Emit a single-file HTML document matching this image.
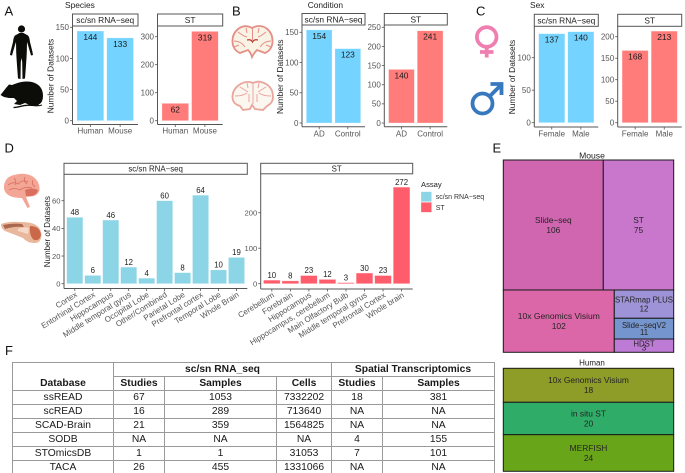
<!DOCTYPE html>
<html lang="en">
<head>
<meta charset="utf-8">
<title>Dataset summary figure</title>
<style>
html,body{margin:0;padding:0;background:#fff;}
#page{position:relative;width:685px;height:473px;overflow:hidden;background:#fff;font-family:"Liberation Sans",sans-serif;}
#fig{position:absolute;left:0;top:0;}
text{font-family:"Liberation Sans",sans-serif;}
#db-table{position:absolute;left:12px;top:362px;width:482px;table-layout:fixed;border-collapse:collapse;font-size:10.3px;color:#1a1a1a;}
#db-table td,#db-table th{border:1px solid #9a9a9a;padding:0;height:13px;line-height:13px;text-align:center;overflow:hidden;white-space:nowrap;}
#db-table th{font-weight:bold;}
#db-table th.db{vertical-align:bottom;}
</style>
</head>
<body>
<div id="page">
<svg id="fig" width="685" height="473" viewBox="0 0 685 473" xmlns="http://www.w3.org/2000/svg">
  <g font-size="13" fill="#111">
    <text x="4.5" y="15.5">A</text>
    <text x="232" y="15.5">B</text>
    <text x="476" y="15.5">C</text>
    <text x="4.5" y="152.5">D</text>
    <text x="492.5" y="152.5">E</text>
    <text x="5" y="355">F</text>
  </g>
  <g font-size="8.4" fill="#222">
    <text x="65" y="8">Species</text>
    <text x="307.7" y="8">Condition</text>
    <text x="530" y="8">Sex</text>
  </g>

  <g fill="#0c0c08">
    <circle cx="21.5" cy="29" r="3.6"/>
    <path d="M19.5 33 L23.5 33 L28 35.5 Q29.5 37 30 42 L32.5 52 L33 55 L31 55.5 L28 45 L27 42 L26.8 52 L26.5 58 L25.8 68 L25 78.5 L22.5 79 L22.2 62 L21.5 58 L20.8 62 L20.5 79 L18 78.5 L17.2 68 L16.5 58 L16.2 52 L16 42 L15 45 L12 55.5 L10 55 L10.5 52 L13 42 Q13.5 37 15 35.5 Z"/>
  </g>
  <g>
    <path fill="#0c0c08" d="M0.5 95 L6 88 L9 84.5 L12 85 L16 83.5 Q24 80.500 32 82 Q43 85 43 96 Q43 103 38 105 L30 105 L25 103 L20 105 L14 104 L17 101 L14 98 L9 98 L4 97 Z"/>
    <path fill="none" stroke="#0c0c08" stroke-width="1.3" d="M37 103 Q40 106 34 105.5 Q26 104.5 20 106.5 Q16 107.5 13.5 107.5"/>
    <path fill="none" stroke="#0c0c08" stroke-width="1" d="M30 104 Q36 107 42 105"/>
  </g>

  <g>
    <path fill="#f9f3e6" stroke="#e58f86" stroke-width="1.8" d="M252 28 Q245 24 238 29 Q232 34 232.5 42 Q233 50 240 53 L248 50 Q251 53 252 57 Q254 53 257 50 L265 53 Q272 50 272.5 42 Q273 33 266 28 Q259 24 252 28 Z"/>
    <path fill="none" stroke="#e58f86" stroke-width="1" d="M252.5 28 L252.5 40 M234 41 Q241 41 245 47 M271 41 Q264 41 260 47 M238 32 Q243 36 247 37 M266 32 Q261 36 258 37 M246 28 L247 33 M259 28 L258 33 M234 47 L239 45 M271 47 L266 45"/>
    <path fill="none" stroke="#b8362d" stroke-width="1.2" d="M247 40 Q251 39 252.5 42 Q254 39 258 40"/>
  </g>
  <g>
    <path fill="#fbf6ef" stroke="#eaa59c" stroke-width="1.8" d="M253 83 Q246 80 239 85 Q232 90 232.5 98 Q233 104 240 106 L243 110 L250 109 L252 105 L255 109 L263 110 L267 106 Q273 103 273 97 Q273 88 266 84 Q259 80 253 83 Z"/>
    <path fill="none" stroke="#eaa59c" stroke-width="1" d="M253 83 L253 104 M235 96 Q243 96 247 93 M271 96 Q263 96 259 93 M240 87 Q245 90 248 92 M266 87 Q261 90 258 92 M247 83 L248 88 M259 83 L258 88 M249 94 L249 102 M257 94 L257 102"/>
  </g>

  <g fill="none" stroke="#ef7fb0" stroke-width="3.8">
    <circle cx="486.7" cy="37" r="9.8"/>
    <path d="M486.7 47 L486.7 57.5 M480 52 L493.5 52"/>
  </g>
  <g fill="none" stroke="#3878be" stroke-width="3.8">
    <circle cx="482.5" cy="103.5" r="10"/>
    <path d="M490 96 L500 86 M490.5 84 L501.5 84 L501.5 95"/>
  </g>

  <g>
    <path fill="#f3a596" d="M4 186 Q5 177 14 175 Q24 172 32 176 Q40 181 39.5 190 Q38 196 31 196.5 L26 197 L30 207 L27.5 208 L22 198 Q10 198 6 193 Q3.5 190 4 186 Z"/>
    <path fill="none" stroke="#d9705f" stroke-width="0.8" d="M8 185 Q14 181 18 184 Q22 179 28 182 M9 190 Q15 187 20 190 Q25 186 32 188 M14 178 Q17 181 15 185 M25 177 Q23 181 27 184 M33 180 Q31 184 35 187"/>
    <path fill="#d9705f" d="M25 190 Q32 187 38 190 Q37 195 31 196 L26 196 Z"/>
  </g>
  <g>
    <path fill="#e9b89c" d="M1 224 Q9 221 20 222 Q30 222 34 224 Q41 227 41.5 235 Q41 243 35 243 Q27 243 23 238 Q13 234 5 231 Q0.5 228 1 224 Z"/>
    <path fill="#c9694a" d="M30 226 Q40 226 41 235 Q40 241 34 240 Q29 236 30 226 Z"/>
    <path fill="#a9674f" d="M3 225 Q12 223 22 224 L24 227 Q14 226 5 229 Z"/>
    <path fill="#f6d9c7" d="M18 229 Q24 226 29 228 L28 234 Q22 232 18 231 Z"/>
  </g>

  <g id="charts"></g>
  <g id="treemaps"></g>
</svg>

<table id="db-table">
  <colgroup><col style="width:101px"><col style="width:51px"><col style="width:112px"><col style="width:55px"><col style="width:51px"><col style="width:112px"></colgroup>
  <tr><th class="db" rowspan="2">Database</th><th colspan="3">sc/sn RNA_seq</th><th colspan="2">Spatial Transcriptomics</th></tr>
  <tr><th>Studies</th><th>Samples</th><th>Cells</th><th>Studies</th><th>Samples</th></tr>
  <tr><td>ssREAD</td><td>67</td><td>1053</td><td>7332202</td><td>18</td><td>381</td></tr>
  <tr><td>scREAD</td><td>16</td><td>289</td><td>713640</td><td>NA</td><td>NA</td></tr>
  <tr><td>SCAD-Brain</td><td>21</td><td>359</td><td>1564825</td><td>NA</td><td>NA</td></tr>
  <tr><td>SODB</td><td>NA</td><td>NA</td><td>NA</td><td>4</td><td>155</td></tr>
  <tr><td>STOmicsDB</td><td>1</td><td>1</td><td>31053</td><td>7</td><td>101</td></tr>
  <tr><td>TACA</td><td>26</td><td>455</td><td>1331066</td><td>NA</td><td>NA</td></tr>
</table>
</div>

<script>
// ---------- chart data ----------
const speciesCategories = ['Human', 'Mouse'];
const speciesRnaValues = [144, 133];
const speciesStValues = [62, 319];
const speciesRnaTicks = [0, 50, 100, 150];
const speciesStTicks = [0, 100, 200, 300];

const conditionCategories = ['AD', 'Control'];
const conditionRnaValues = [154, 123];
const conditionStValues = [140, 241];
const conditionRnaTicks = [0, 50, 100, 150];
const conditionStTicks = [0, 50, 100, 150, 200, 250];

const sexCategories = ['Female', 'Male'];
const sexRnaValues = [137, 140];
const sexStValues = [168, 213];
const sexRnaTicks = [0, 50, 100];
const sexStTicks = [0, 50, 100, 150, 200];

const regionRnaCategories = ['Cortex', 'Entorhinal Cortex', 'Hippocampus', 'Middle temporal gyrus', 'Occipital Lobe', 'Other/Combined', 'Parietal Lobe', 'Prefrontal cortex', 'Temporal Lobe', 'Whole Brain'];
const regionRnaValues = [48, 6, 46, 12, 4, 60, 8, 64, 10, 19];
const regionRnaTicks = [0, 20, 40, 60];
const regionStCategories = ['Cerebellum', 'Forebrain', 'Hippocampus', 'Hippocampus, cerebellum', 'Main Olfactory Bulb', 'Middle temporal gyrus', 'Prefrontal Cortex', 'Whole brain'];
const regionStValues = [10, 8, 23, 12, 3, 30, 23, 272];
const regionStTicks = [0, 100, 200];

const mouseMethods = ['Slide\u2212seq', 'ST', '10x Genomics Visium', 'STARmap PLUS', 'Slide\u2212seqV2', 'HDST'];
const mouseCounts = [106, 75, 102, 12, 11, 3];
// The reference's cell areas are not proportional to the printed counts; these ratios are read from the picture.
const mouseAreaRatios = [1.226, 1.220, 0.678, 1.401, 1.118, 2.633];
const humanMethods = ['10x Genomics Visium', 'in situ ST', 'MERFISH'];
const humanCounts = [18, 20, 24];
const humanAreaRatios = [1.889, 1.620, 1.525];

// ---------- helpers ----------
const NS = 'http://www.w3.org/2000/svg';
function make(parent, tag, attrs, txt) {
  const node = document.createElementNS(NS, tag);
  for (const k in attrs) node.setAttribute(k, attrs[k]);
  if (txt !== undefined) node.textContent = txt;
  parent.appendChild(node);
  return node;
}
function linearY(y0, yRef, refValue) {
  const k = (y0 - yRef) / refValue;
  return v => y0 - v * k;
}
function bandX(x0, x1, n) {
  const step = (x1 - x0) / (n - 1 + 1.2);
  return { center: i => x0 + (0.6 + i) * step, width: 0.9 * step };
}

const AXIS = '#555555';
const TICK_TEXT = '#555555';

function drawPanel(cfg) {
  const root = document.getElementById('charts');
  const g = make(root, 'g', {});
  
  

  const y = linearY(cfg.y0, cfg.yRef, cfg.refValue);
  const x = bandX(cfg.x0, cfg.x1, cfg.categories.length);

  const strip = make(g, 'rect', { x: cfg.x0, y: cfg.stripTop, width: cfg.x1 - cfg.x0, height: cfg.stripBottom - cfg.stripTop, fill: '#fff', stroke: AXIS, 'stroke-width': 1 });
  
  
  const stripLabel = make(g, 'text', { x: (cfg.x0 + cfg.x1) / 2, y: (cfg.stripTop + cfg.stripBottom) / 2 + cfg.stripFont * 0.36, 'text-anchor': 'middle', 'font-size': cfg.stripFont, fill: '#222' }, cfg.strip);
  
  

  const yAxis = make(g, 'line', { x1: cfg.x0, x2: cfg.x0, y1: cfg.stripBottom, y2: cfg.base, stroke: AXIS, 'stroke-width': 1 });
  
  
  const xAxis = make(g, 'line', { x1: cfg.x0, x2: cfg.x1, y1: cfg.base, y2: cfg.base, stroke: AXIS, 'stroke-width': 1 });
  
  

  cfg.ticks.forEach(t => {
    const mark = make(g, 'line', { x1: cfg.x0 - 2.5, x2: cfg.x0, y1: y(t), y2: y(t), stroke: AXIS, 'stroke-width': 0.8 });
    
    
    const label = make(g, 'text', { x: cfg.x0 - 3.5, y: y(t) + cfg.tickFont * 0.36, 'text-anchor': 'end', 'font-size': cfg.tickFont, fill: TICK_TEXT }, t);
    
    
  });

  cfg.values.forEach((v, i) => {
    const cx = x.center(i);
    const bar = make(g, 'rect', { x: cx - x.width / 2, y: y(v), width: x.width, height: cfg.y0 - y(v), fill: cfg.color, stroke: '#ffffff', 'stroke-opacity': 0.45, 'stroke-width': 0.6 });
    
    
    const labelY = cfg.labelOutside ? y(v) - 2.3 : y(v) + 9;
    const val = make(g, 'text', { x: cx, y: labelY, 'text-anchor': 'middle', 'font-size': cfg.valueFont, fill: '#1c1c1c' }, v);
    
    
    const mark = make(g, 'line', { x1: cx, x2: cx, y1: cfg.base, y2: cfg.base + 2.5, stroke: AXIS, 'stroke-width': 0.8 });
    
    
    const catAttrs = cfg.rotate
      ? { x: cx + 3, y: cfg.base + 7.5, 'text-anchor': 'end', 'font-size': cfg.catFont, fill: TICK_TEXT, transform: 'rotate(-32 ' + (cx + 3) + ' ' + (cfg.base + 7.5) + ')' }
      : { x: cx, y: cfg.catY, 'text-anchor': 'middle', 'font-size': cfg.catFont, fill: TICK_TEXT };
    const cat = make(g, 'text', catAttrs, cfg.categories[i]);
    
    
  });

  if (cfg.titleX !== undefined) {
    const title = make(g, 'text', { x: cfg.titleX, y: cfg.titleY, 'text-anchor': 'middle', 'font-size': cfg.titleFont, fill: '#222', transform: 'rotate(-90 ' + cfg.titleX + ' ' + cfg.titleY + ')' }, 'Number of Datasets');
    
    
  }
}

const RNA_BLUE = '#74d3ff';
const ST_RED = '#ff7c7a';
const MINI = { tickFont: 8, valueFont: 8.4, catFont: 8, stripFont: 8.4, titleFont: 8.4 };
const RNA_STRIP = 'sc/sn RNA\u2212seq';

drawPanel(Object.assign({}, MINI, { strip: RNA_STRIP, categories: speciesCategories, values: speciesRnaValues, ticks: speciesRnaTicks, color: RNA_BLUE,
  x0: 72.5, x1: 138, stripTop: 14, stripBottom: 26, base: 124.5, y0: 120.7, yRef: 27.3, refValue: 150, catY: 133.5, titleX: 53.5, titleY: 76 }));
drawPanel(Object.assign({}, MINI, { strip: 'ST', categories: speciesCategories, values: speciesStValues, ticks: speciesStTicks, color: ST_RED,
  x0: 157.5, x1: 222.7, stripTop: 14, stripBottom: 26, base: 124.5, y0: 120.7, yRef: 36.7, refValue: 300, catY: 133.5 }));
drawPanel(Object.assign({}, MINI, { strip: RNA_STRIP, categories: conditionCategories, values: conditionRnaValues, ticks: conditionRnaTicks, color: RNA_BLUE,
  x0: 302, x1: 365, stripTop: 13.5, stripBottom: 25, base: 126.7, y0: 123, yRef: 32.3, refValue: 150, catY: 136.5, titleX: 283, titleY: 76.7 }));
drawPanel(Object.assign({}, MINI, { strip: 'ST', categories: conditionCategories, values: conditionStValues, ticks: conditionStTicks, color: ST_RED,
  x0: 384.3, x1: 447.3, stripTop: 13.5, stripBottom: 25, base: 126.7, y0: 123, yRef: 27.3, refValue: 250, catY: 136.5 }));
drawPanel(Object.assign({}, MINI, { strip: RNA_STRIP, categories: sexCategories, values: sexRnaValues, ticks: sexRnaTicks, color: RNA_BLUE,
  x0: 534.3, x1: 598.3, stripTop: 14.3, stripBottom: 26.3, base: 127, y0: 122.7, yRef: 57.7, refValue: 100, catY: 136.5, titleX: 515, titleY: 77 }));
drawPanel(Object.assign({}, MINI, { strip: 'ST', categories: sexCategories, values: sexStValues, ticks: sexStTicks, color: ST_RED,
  x0: 617.7, x1: 681.7, stripTop: 14.3, stripBottom: 26.3, base: 127, y0: 122.7, yRef: 36.7, refValue: 200, catY: 136.5 }));

const WIDE = { tickFont: 7.6, valueFont: 7.8, catFont: 8, stripFont: 7.9, titleFont: 8, rotate: true, labelOutside: true };
drawPanel(Object.assign({}, WIDE, { strip: RNA_STRIP, categories: regionRnaCategories, values: regionRnaValues, ticks: regionRnaTicks, color: '#8cd5e6',
  x0: 64, x1: 247.3, stripTop: 163.3, stripBottom: 174.3, base: 288.5, y0: 283.7, yRef: 200.7, refValue: 60, titleX: 50, titleY: 231.7 }));
drawPanel(Object.assign({}, WIDE, { strip: 'ST', categories: regionStCategories, values: regionStValues, ticks: regionStTicks, color: '#ff5d6b',
  x0: 260.7, x1: 412.7, stripTop: 163.3, stripBottom: 173.8, base: 289, y0: 283.7, yRef: 212.7, refValue: 200 }));

// ---------- legend ----------
const legendEntries = ['sc/sn RNA\u2212seq', 'ST'];
const legendColors = ['#8cd5e6', '#ff5d6b'];
(function () {
  const root = document.getElementById('charts');
  const g = make(root, 'g', {});
  
  
  const title = make(g, 'text', { x: 421, y: 187, 'font-size': 7.6, fill: '#222' }, 'Assay');
  
  
  legendEntries.forEach((name, i) => {
    const top = 191.7 + i * 10.6;
    const swatch = make(g, 'rect', { x: 421, y: top, width: 10.6, height: 10, fill: legendColors[i], stroke: '#fff', 'stroke-opacity': 0.5, 'stroke-width': 0.5 });
    
    
    const label = make(g, 'text', { x: 435.7, y: top + 7.5, 'font-size': 7, fill: '#333' }, name);
    
    
  });
})();

// ---------- treemaps ----------
function drawCell(parent, box, name, count, fill, font) {
  const cell = make(parent, 'rect', { x: box.x, y: box.y, width: box.w, height: box.h, fill: fill, stroke: '#1a1a1a', 'stroke-width': 1 });
  
  
  const gap = Math.min(10, box.h * 0.33);
  const cx = box.x + box.w / 2;
  const cy = box.y + box.h / 2;
  const nameText = make(parent, 'text', { x: cx, y: cy - gap / 2 + 2.9, 'text-anchor': 'middle', 'font-size': font, fill: '#242424' }, name);
  
  
  const countText = make(parent, 'text', { x: cx, y: cy + gap / 2 + 2.9, 'text-anchor': 'middle', 'font-size': font, fill: '#242424' }, count);
  
  
}

(function drawMouseTreemap() {
  const root = document.getElementById('treemaps');
  const g = make(root, 'g', {});
  
  
  const X = 503.3, Y = 160, W = 170.4, H = 192.3;
  const fills = ['#d066b0', '#c977cc', '#dc67a8', '#9d93d6', '#7595ce', '#be7bd6'];
  const area = mouseCounts.map((c, i) => c * mouseAreaRatios[i]);
  const total = area.reduce((a, b) => a + b, 0);
  const topShare = (area[0] + area[1]) / total;
  const topH = H * topShare;
  const botH = H - topH;
  const w0 = W * area[0] / (area[0] + area[1]);
  const boxes = [
    { x: X, y: Y, w: w0, h: topH },
    { x: X + w0, y: Y, w: W - w0, h: topH }
  ];
  const colArea = area[3] + area[4] + area[5];
  const w2 = W * area[2] / (area[2] + colArea);
  boxes.push({ x: X, y: Y + topH, w: w2, h: botH });
  let cursor = Y + topH;
  [3, 4, 5].forEach(i => {
    const h = botH * area[i] / colArea;
    boxes.push({ x: X + w2, y: cursor, w: W - w2, h: h });
    cursor += h;
  });
  const title = make(g, 'text', { x: 592, y: 158.5, 'text-anchor': 'middle', 'font-size': 8.6, fill: '#222' }, 'Mouse');
  
  
  const fonts = [8.3, 8.3, 8.5, 7.8, 7.8, 7.8];
  boxes.forEach((b, i) => drawCell(g, b, mouseMethods[i], mouseCounts[i], fills[i], fonts[i]));
})();

(function drawHumanTreemap() {
  const root = document.getElementById('treemaps');
  const g = make(root, 'g', {});
  
  
  const X = 503.3, Y = 368.3, W = 170.4, H = 103;
  const fills = ['#8e9c28', '#2fad68', '#69a518'];
  const area = humanCounts.map((c, i) => c * humanAreaRatios[i]);
  const total = area.reduce((a, b) => a + b, 0);
  const title = make(g, 'text', { x: 592, y: 365.7, 'text-anchor': 'middle', 'font-size': 8, fill: '#222' }, 'Human');
  
  
  let cursor = Y;
  area.forEach((a, i) => {
    const h = H * a / total;
    drawCell(g, { x: X, y: cursor, w: W, h: h }, humanMethods[i], humanCounts[i], fills[i], 8.4);
    cursor += h;
  });
})();
</script>
</body>
</html>
